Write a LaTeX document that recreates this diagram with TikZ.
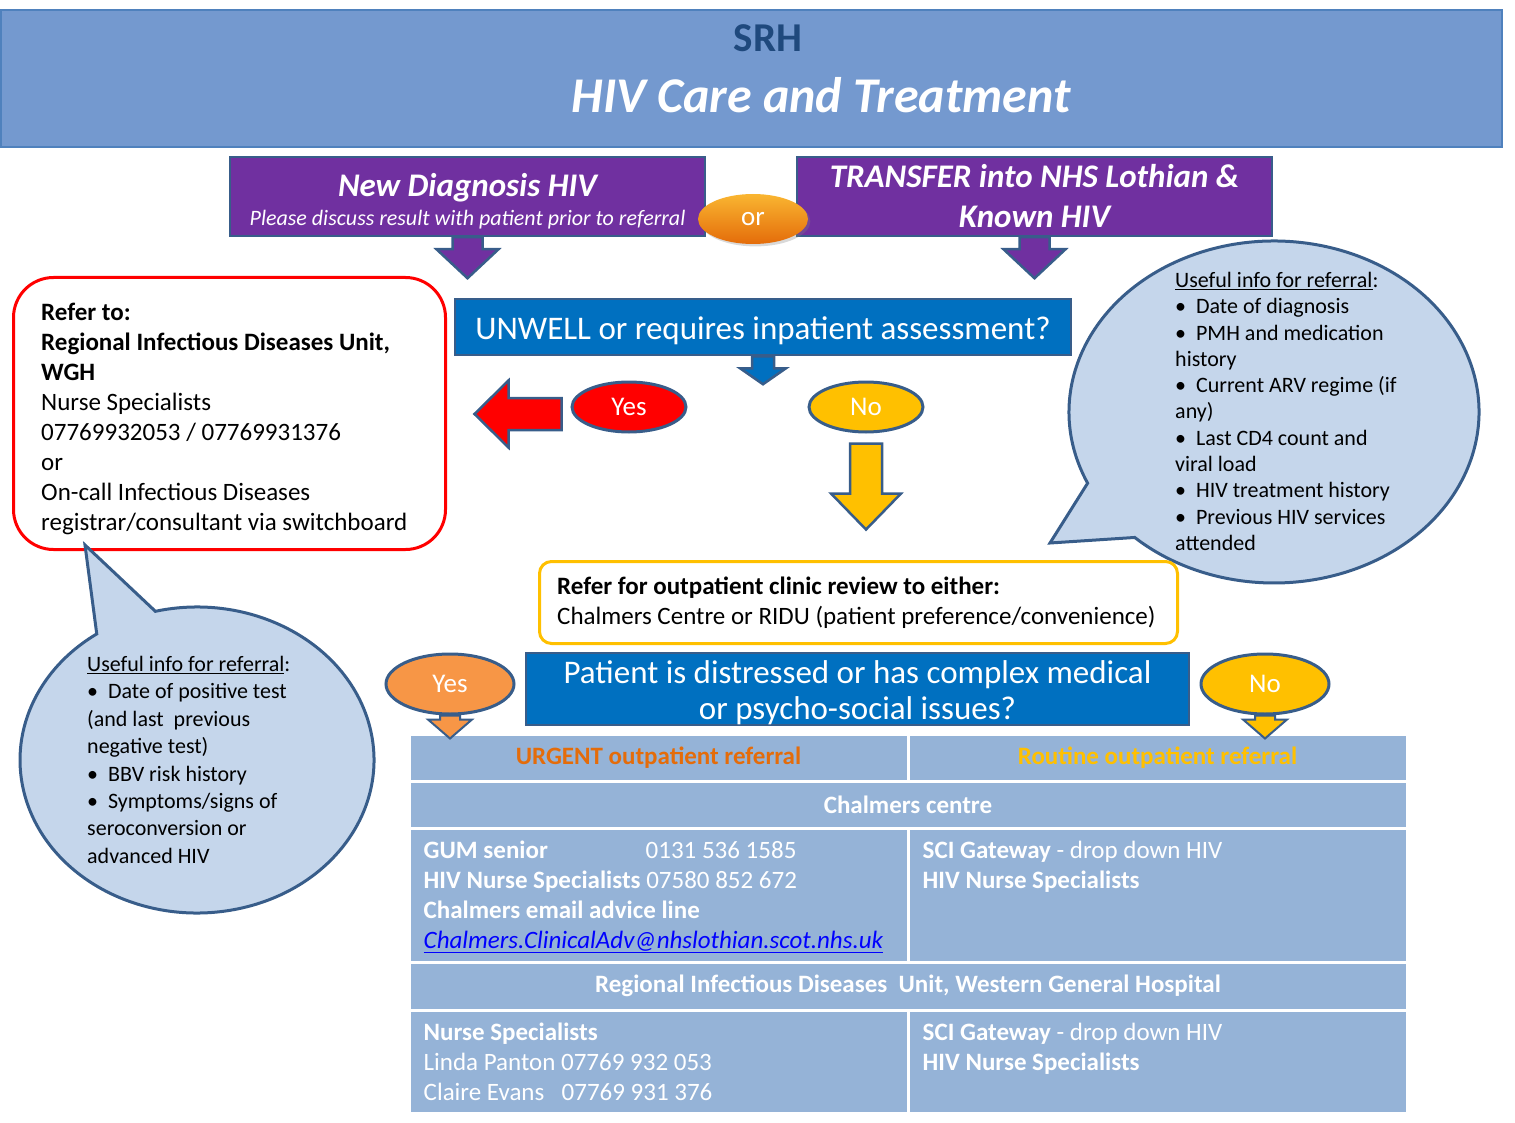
\documentclass[tikz,border=0pt]{standalone}
\usepackage{fontspec}
\setmainfont{Carlito}
\usepackage{xcolor}
\usepackage{tikz}
\usetikzlibrary{positioning,shapes.geometric,calc,shadows}
\definecolor{titlefill}{RGB}{116,153,207}
\definecolor{titleedge}{RGB}{79,129,189}
\definecolor{srhblue}{RGB}{31,73,125}
\definecolor{edgeblue}{RGB}{56,93,138}
\definecolor{hivpurple}{RGB}{112,48,160}
\definecolor{boxblue}{RGB}{0,112,192}
\definecolor{hivred}{RGB}{255,0,0}
\definecolor{hivyellow}{RGB}{255,192,0}
\definecolor{hivorange}{RGB}{247,150,70}
\definecolor{bubblefill}{RGB}{197,214,235}
\definecolor{tablefill}{RGB}{149,179,215}
\definecolor{urgentorange}{RGB}{228,108,10}
\definecolor{linkblue}{RGB}{0,0,255}
\newcommand{\bodyfont}{\fontsize{25}{30}\selectfont}
\newcommand{\bubblefont}{\fontsize{22}{27.4}\selectfont}
% block arrow pointing down: style, top centre, shaft half width, head half width, shaft length, head length
\newcommand{\dnarrow}[6]{\draw[#1] (#2) ++(-#3,0) -- ++(0,#5) -- ++({#3-#4},0) -- ++(#4,#6) -- ++(#4,-#6) -- ++({#3-#4},0) -- ++(0,-#5) -- cycle;}
% block arrow pointing left: style, right centre, shaft half width, head half width, shaft length, head length
\newcommand{\lfarrow}[6]{\draw[#1] (#2) ++(0,-#3) -- ++(-#5,0) -- ++(0,{#3-#4}) -- ++(-#6,#4) -- ++(#6,#4) -- ++(0,{#3-#4}) -- ++(#5,0) -- cycle;}
\begin{document}
\begin{tikzpicture}[x=1pt, y=-1pt,
    titlebox/.style={rectangle, fill=titlefill, draw=titleedge, line width=2pt},
    purplebox/.style={rectangle, fill=hivpurple, draw=edgeblue, line width=2.5pt, text=white, align=center, minimum width=475, minimum height=79, inner sep=0pt},
    bluebox/.style={rectangle, fill=boxblue, draw=edgeblue, line width=2.5pt, text=white, align=center, inner sep=0pt, font=\fontsize{33}{36}\selectfont},
    answer/.style={ellipse, draw=edgeblue, line width=3pt, text=white, minimum width=114, minimum height=50, inner sep=0pt, font=\fontsize{27}{30}\selectfont},
    arrowshape/.style={draw=edgeblue, line width=2.5pt, line join=miter},
    bubble/.style={fill=bubblefill, draw=edgeblue, line width=3pt, line join=miter},
    bubbletext/.style={anchor=north west, align=left, inner sep=0pt, font=\bubblefont},
    cell/.style={rectangle, fill=tablefill, draw=white, line width=3pt, inner sep=0pt, text=white, font=\bodyfont\bfseries},
    celltext/.style={anchor=north west, align=left, inner sep=0pt, text=white, font=\bodyfont}
]
\useasboundingbox (0,0) rectangle (1515,1123);

% Title
\node[titlebox, minimum width=1501, minimum height=137, anchor=north west] (title) at (0,9) {};
\node[text=srhblue, font=\fontsize{41}{44}\selectfont\bfseries] (srh) at (768,38) {SRH};
\node[text=white, font=\fontsize{50}{54}\selectfont\bfseries\itshape] (hivcare) at (821,95) {HIV Care and Treatment};

% Entry boxes
\node[purplebox] (newdiag) at (467.5,196.5) {{\fontsize{33}{36}\selectfont\bfseries\itshape\rule{0pt}{32pt}New Diagnosis HIV}\\[7pt]{\fontsize{22}{24}\selectfont\itshape Please discuss result with patient prior to referral}};
\node[purplebox, font=\fontsize{33}{40}\selectfont\bfseries\itshape] (transfer) at (1034.5,196.5) {TRANSFER into NHS Lothian \&\\Known HIV};
\node[ellipse, draw=none, top color=hivorange!70!yellow, bottom color=urgentorange, drop shadow={opacity=0.3}, minimum width=110, minimum height=50, text=white, font=\fontsize{27}{30}\selectfont] (or) at (753,219) {or};

\dnarrow{arrowshape, fill=hivpurple}{newdiag.south}{15}{31}{12}{29}
\dnarrow{arrowshape, fill=hivpurple}{transfer.south}{15}{31}{12}{29}

% Unwell question
\node[bluebox, minimum width=616, minimum height=56] (unwell) at (763,327) {\rule{0pt}{31pt}UNWELL or requires inpatient assessment?};
\dnarrow{arrowshape, fill=boxblue}{unwell.south}{11}{23}{12}{16}

\node[answer, fill=hivred] (yes1) at (629,407) {Yes};
\node[answer, fill=hivyellow] (no1) at (866,407) {No};
\lfarrow{arrowshape, fill=hivred}{$(yes1.west)+(-9,7)$}{16}{33.5}{53}{34}
\dnarrow{arrowshape, fill=hivyellow}{$(no1.south)+(0,10)$}{16}{35}{50}{36}

% Inpatient referral
\node[rectangle, rounded corners=40pt, draw=hivred, line width=3pt, fill=white, minimum width=432, minimum height=272, anchor=north west] (inpatient) at (12,276) {};
\node[anchor=north west, align=left, inner sep=0pt, font=\bodyfont] (inptext) at (41,303) {\textbf{Refer to:}\\\textbf{Regional Infectious Diseases Unit,}\\\textbf{WGH}\\Nurse Specialists\\07769932053 / 07769931376\\or\\On-call Infectious Diseases\\registrar/consultant via switchboard};

% Speech bubble, new diagnosis
\draw[bubble] (197,760) ++(256.4:177 and 153) arc[start angle=256.4, end angle=595.5, x radius=177, y radius=153] -- (85,545) -- cycle;
\node[bubbletext] (newinfo) at (87,656) {\underline{Useful info for referral}:\\\textbullet\ \ Date of positive test\\(and last\ \ previous\\negative test)\\\textbullet\ \ BBV risk history\\\textbullet\ \ Symptoms/signs of\\seroconversion or\\advanced HIV};

% Speech bubble, transfer
\draw[bubble] (1274,412) ++(155.4:205 and 171) arc[start angle=155.4, end angle=492.8, x radius=205, y radius=171] -- (1050,543) -- cycle;
\node[bubbletext, font=\fontsize{22}{26.3}\selectfont] (transinfo) at (1175,272) {\underline{Useful info for referral}:\\\textbullet\ \ Date of diagnosis\\\textbullet\ \ PMH and medication\\history\\\textbullet\ \ Current ARV regime (if\\any)\\\textbullet\ \ Last CD4 count and\\viral load\\\textbullet\ \ HIV treatment history\\\textbullet\ \ Previous HIV services\\attended};

% Outpatient referral
\node[rectangle, rounded corners=12pt, draw=hivyellow, line width=3pt, fill=white, minimum width=638, minimum height=82, anchor=north west] (outpatient) at (538,560) {};
\node[anchor=north west, align=left, inner sep=0pt, font=\bodyfont] (outtext) at (557,577) {\textbf{Refer for outpatient clinic review to either:}\\Chalmers Centre or RIDU (patient preference/convenience)};

\node[bluebox, minimum width=663, minimum height=72] (distress) at (857.5,689) {\rule{0pt}{30pt}Patient is distressed or has complex medical\\or psycho-social issues?};

% Referral table
\node[cell, minimum width=499, minimum height=47] (urgent) at (658.5,757.5) {\textcolor{urgentorange}{URGENT outpatient referral}};
\node[cell, minimum width=499, minimum height=47] (routine) at (1157.5,757.5) {\textcolor{hivyellow}{Routine outpatient referral}};
\node[cell, minimum width=998, minimum height=47] (chalmers) at (908,804.5) {Chalmers centre};
\node[cell, minimum width=499, minimum height=134] (chalL) at (658.5,895) {};
\node[cell, minimum width=499, minimum height=134] (chalR) at (1157.5,895) {};
\node[cell, minimum width=998, minimum height=48] (ridu) at (908,986) {Regional Infectious Diseases\ \ Unit, Western General Hospital};
\node[cell, minimum width=499, minimum height=103] (riduL) at (658.5,1061.5) {};
\node[cell, minimum width=499, minimum height=103] (riduR) at (1157.5,1061.5) {};

\node[celltext] (chalLtext) at ($(chalL.north west)+(16,14)$) {\makebox[222pt][l]{\textbf{GUM senior}}0131 536 1585\\\textbf{HIV Nurse Specialists} 07580 852 672\\\textbf{Chalmers email advice line}\\\textcolor{linkblue}{\itshape\underline{Chalmers.ClinicalAdv@nhslothian.scot.nhs.uk}}};
\node[celltext] (chalRtext) at ($(chalR.north west)+(16,14)$) {\textbf{SCI Gateway} - drop down HIV\\\textbf{HIV Nurse Specialists}};
\node[celltext] (riduLtext) at ($(riduL.north west)+(16,14)$) {\textbf{Nurse Specialists}\\Linda Panton 07769 932 053\\\makebox[138pt][l]{Claire Evans}07769 931 376};
\node[celltext] (riduRtext) at ($(riduR.north west)+(16,14)$) {\textbf{SCI Gateway} - drop down HIV\\\textbf{HIV Nurse Specialists}};

% Urgency answers
\node[answer, fill=hivorange, minimum width=128, minimum height=60] (yes2) at (450,684) {Yes};
\node[answer, fill=hivyellow, minimum width=128, minimum height=60] (no2) at (1265,684) {No};
\dnarrow{arrowshape, line width=2pt, fill=hivorange}{yes2.south}{10}{22}{4}{19}
\dnarrow{arrowshape, line width=2pt, fill=hivyellow}{no2.south}{10}{22}{4}{19}
\end{tikzpicture}
\end{document}
